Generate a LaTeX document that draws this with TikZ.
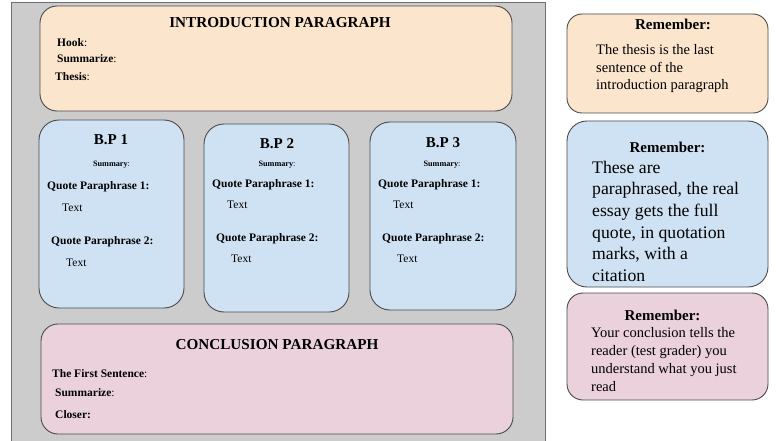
\documentclass[tikz,border=0pt]{standalone}
\usepackage{fontspec}
\setmainfont{LiberationSerif}[Extension=.ttf, UprightFont=*-Regular, BoldFont=*-Bold, ItalicFont=*-Italic, BoldItalicFont=*-BoldItalic]
\definecolor{panel}{HTML}{CCCCCC}
\definecolor{peach}{HTML}{FCE5CD}
\definecolor{lblue}{HTML}{CFE2F3}
\definecolor{lpink}{HTML}{EAD1DC}
\definecolor{edge}{HTML}{4A4A4A}
\begin{document}
\begin{tikzpicture}[x=1pt,y=-1pt,
  box/.style={draw=edge, line width=0.9pt, rounded corners=17pt, rectangle, inner sep=0pt},
  lbl/.style={anchor=base west, inner sep=0pt},
  ctr/.style={anchor=base, inner sep=0pt},
  ttl/.style={ctr, font=\fontsize{15.2}{16}\selectfont\bfseries},
  bptl/.style={ctr, font=\fontsize{15}{16}\selectfont\bfseries},
  small/.style={ctr, font=\fontsize{8.2}{9}\selectfont},
  fld/.style={lbl, font=\fontsize{11.5}{13}\selectfont},
  txt/.style={lbl, font=\fontsize{11.5}{13}\selectfont},
  remt/.style={ctr, font=\fontsize{15}{16}\selectfont\bfseries},
  remb/.style={lbl, font=\fontsize{14.5}{16}\selectfont},
  rembig/.style={lbl, font=\fontsize{17.7}{19}\selectfont}
]
\useasboundingbox (0,0) rectangle (784,441);
\fill[white] (0,0) rectangle (784,441);
\draw[fill=panel, draw=edge!80, line width=0.9pt] (11,2) rectangle (545,445);

% boxes
\node[box, fill=peach, minimum width=472pt, minimum height=105pt] (intro) at (276,58.5) {};
\node[box, fill=lblue, minimum width=145pt, minimum height=188pt, rounded corners=20pt] (bp1) at (111.5,214) {};
\node[box, fill=lblue, minimum width=145pt, minimum height=188pt, rounded corners=20pt] (bp2) at (276.5,218) {};
\node[box, fill=lblue, minimum width=146pt, minimum height=188pt, rounded corners=20pt] (bp3) at (443,216) {};
\node[box, fill=lpink, minimum width=472pt, minimum height=110pt] (concl) at (277,379) {};
\node[box, fill=peach, minimum width=201pt, minimum height=99pt, rounded corners=15pt] (r1) at (667.5,63.5) {};
\node[box, fill=lblue, minimum width=201pt, minimum height=166pt, rounded corners=20pt] (r2) at (667.5,204) {};
\node[box, fill=lpink, minimum width=201pt, minimum height=107pt, rounded corners=16pt] (r3) at (667.5,346.5) {};

% introduction
\node[ttl] (introt) at (280,28) {INTRODUCTION PARAGRAPH};
\node[fld] (hook) at (57,47) {\textbf{Hook}:};
\node[fld] (isum) at (57,63) {\textbf{Summarize}:};
\node[fld] (thesis) at (55,81) {\textbf{Thesis}:};

% body paragraphs
\node[bptl] (bp1t) at (111,144) {B.P 1};
\node[small] (bp1s) at (111.5,166) {\textbf{Summary}:};
\node[fld] (bp1q1) at (47,189) {\textbf{Quote Paraphrase 1:}};
\node[txt] (bp1x1) at (62,211) {Text};
\node[fld] (bp1q2) at (51,244) {\textbf{Quote Paraphrase 2:}};
\node[txt] (bp1x2) at (66,266) {Text};

\node[bptl] (bp2t) at (277,148) {B.P 2};
\node[small] (bp2s) at (277,166) {\textbf{Summary}:};
\node[fld] (bp2q1) at (212,187) {\textbf{Quote Paraphrase 1:}};
\node[txt] (bp2x1) at (227,208) {Text};
\node[fld] (bp2q2) at (216,241) {\textbf{Quote Paraphrase 2:}};
\node[txt] (bp2x2) at (231,262) {Text};

\node[bptl] (bp3t) at (443,147) {B.P 3};
\node[small] (bp3s) at (442,166) {\textbf{Summary}:};
\node[fld] (bp3q1) at (378,187) {\textbf{Quote Paraphrase 1:}};
\node[txt] (bp3x1) at (393,208) {Text};
\node[fld] (bp3q2) at (382,241) {\textbf{Quote Paraphrase 2:}};
\node[txt] (bp3x2) at (397,262) {Text};

% conclusion
\node[ttl] (conclt) at (277,349) {CONCLUSION PARAGRAPH};
\node[fld] (first) at (52,377) {\textbf{The First Sentence}:};
\node[fld] (csum) at (55,396) {\textbf{Summarize}:};
\node[fld] (closer) at (55,418) {\textbf{Closer:}};

% remember boxes
\node[remt] (r1t) at (673,30) {Remember:};
\node[remb] (r1a) at (596,55) {The thesis is the last};
\node[remb] (r1b) at (596,72.5) {sentence of the};
\node[remb] (r1c) at (596,90) {introduction paragraph};

\node[remt] (r2t) at (667.5,153) {Remember:};
\node[rembig] (r2a) at (592,173) {These are};
\node[rembig] (r2b) at (592,194.7) {paraphrased, the real};
\node[rembig] (r2c) at (592,216.4) {essay gets the full};
\node[rembig] (r2d) at (592,238.1) {quote, in quotation};
\node[rembig] (r2e) at (592,259.8) {marks, with a};
\node[rembig] (r2f) at (592,281.5) {citation};

\node[remt] (r3t) at (662.5,320) {Remember:};
\node[remb] (r3a) at (591,337) {Your conclusion tells the};
\node[remb] (r3b) at (591,355) {reader (test grader) you};
\node[remb] (r3c) at (591,373) {understand what you just};
\node[remb] (r3d) at (591,391) {read};
\end{tikzpicture}
\end{document}
